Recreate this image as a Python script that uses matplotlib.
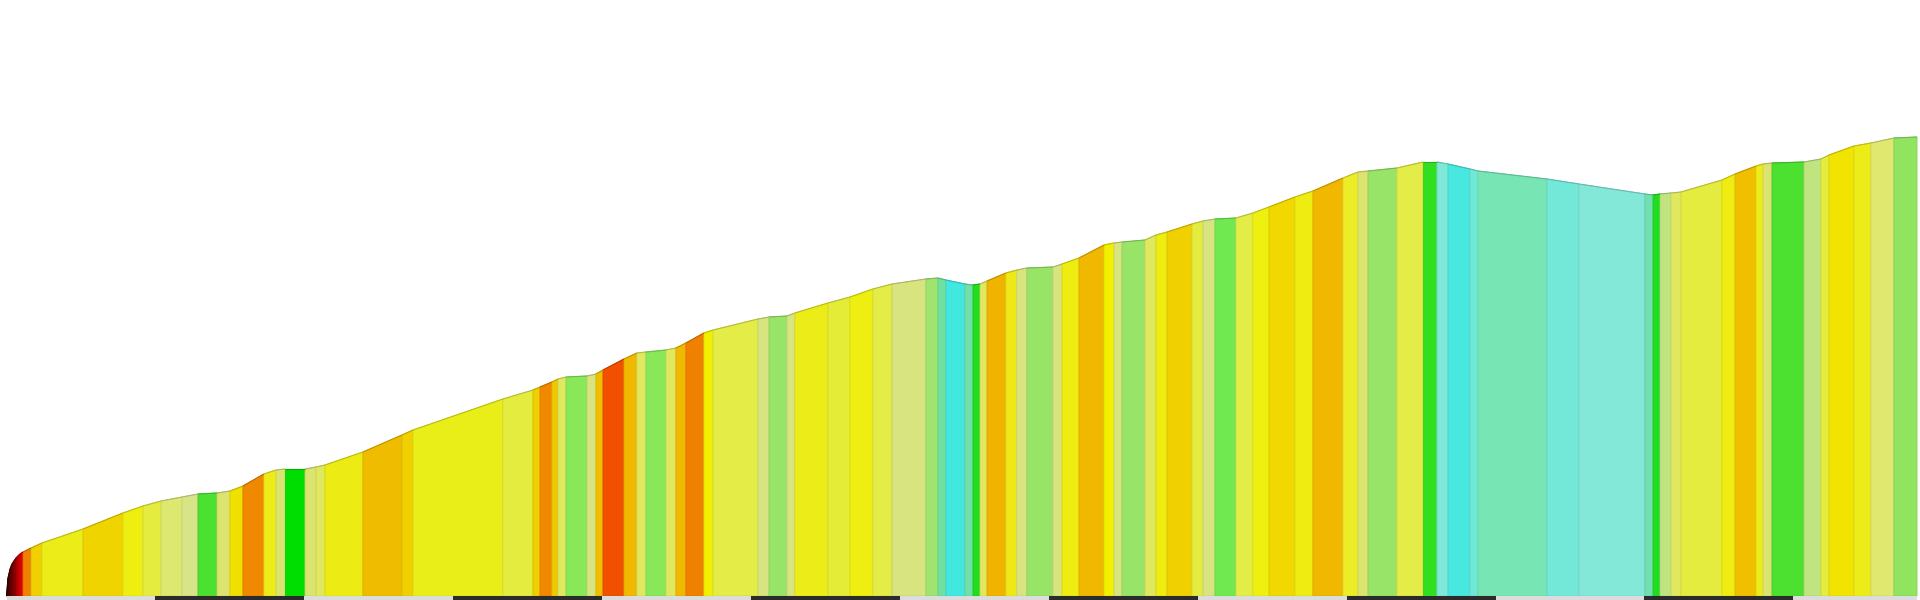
import numpy as np
import matplotlib
matplotlib.use("Agg")
import matplotlib.pyplot as plt
from matplotlib.colors import to_rgb

# distance along the route (km) at each segment boundary
dist_km = [
    0.000, 0.010, 0.024, 0.037, 0.050, 0.064, 0.077, 0.091, 0.111, 0.165,
    0.238, 0.514, 0.782, 0.917, 1.038, 1.179, 1.286, 1.414, 1.501, 1.588,
    1.729, 1.810, 1.870, 2.005, 2.079, 2.139, 2.394, 2.656, 2.730, 3.334,
    3.536, 3.583, 3.663, 3.704, 3.758, 3.899, 3.959, 4.006, 4.147, 4.234,
    4.295, 4.429, 4.496, 4.563, 4.684, 4.745, 5.047, 5.121, 5.242, 5.295,
    5.517, 5.665, 5.819, 5.947, 6.175, 6.256, 6.310, 6.437, 6.491, 6.538,
    6.585, 6.712, 6.786, 6.853, 7.028, 7.089, 7.203, 7.371, 7.438, 7.492,
    7.646, 7.720, 7.794, 7.962, 8.036, 8.116, 8.257, 8.371, 8.479, 8.653,
    8.774, 8.976, 9.077, 9.144, 9.338, 9.513, 9.607, 9.681, 9.829, 9.883,
    10.346, 10.561, 11.004, 11.058, 11.105, 11.179, 11.246, 11.521, 11.609, 11.750,
    11.797, 11.857, 12.072, 12.186, 12.240, 12.408, 12.522, 12.676, 12.831,
]

# elevation (m) at each boundary
elev_m = [
    300, 336, 354, 364, 370, 376, 380, 384, 388, 396,
    406, 434, 466, 480, 490, 498, 504, 506, 510, 520,
    544, 552, 554, 554, 558, 562, 588, 622, 632, 694,
    712, 718, 728, 734, 738, 740, 744, 752, 774, 786,
    788, 792, 796, 806, 826, 832, 854, 858, 860, 866,
    886, 898, 914, 924, 934, 936, 932, 924, 922, 924,
    930, 946, 952, 956, 958, 964, 976, 1002, 1006, 1008,
    1012, 1022, 1028, 1044, 1050, 1054, 1056, 1066, 1078, 1098,
    1110, 1136, 1148, 1150, 1156, 1168, 1168, 1164, 1154, 1150,
    1134, 1124, 1104, 1102, 1104, 1106, 1108, 1132, 1144, 1160,
    1164, 1166, 1168, 1174, 1182, 1200, 1206, 1216, 1218,
]

# gradient colour of each segment
seg_colors = [
    '#3a0000', '#4a0000', '#5e0000', '#740000', '#8c0000', '#a80000', '#c80000', '#e00000',
    '#f08000', '#f0d000', '#ecec18', '#f0d400', '#eeee10', '#e4ec40', '#dde870', '#d8e488',
    '#4ce030', '#dce470', '#f0e000', '#f08800', '#eeec18', '#dce470', '#00dd00', '#dce470',
    '#e0e860', '#ecec14', '#f0bc00', '#f0d000', '#eaee18', '#e4ec40', '#f0d000', '#f08800',
    '#f0c800', '#e0e860', '#88e858', '#d8e480', '#f0c000', '#f05000', '#f0b800', '#e0e860',
    '#88e858', '#e0e860', '#f0b800', '#f08000', '#f0f000', '#e4ec48', '#d8e480', '#98e468',
    '#d8e480', '#ecec18', '#e4ec38', '#eeee10', '#e4ec48', '#d8e480', '#a0e470', '#70e0a0',
    '#40e8e0', '#70e0a8', '#20dd20', '#e0e860', '#f0b400', '#eee818', '#d8e480', '#98e468',
    '#d8e480', '#eeec10', '#f0b800', '#f0f000', '#d8e480', '#98e468', '#e0e860', '#eeec10',
    '#f0d000', '#e4ec40', '#d8e480', '#70e850', '#e4ec48', '#eef010', '#f0d800', '#eeec10',
    '#f0b800', '#ecec28', '#dce470', '#98e468', '#e4ec48', '#30e020', '#80e8d8', '#48e8e0',
    '#70e8d8', '#78e6b4', '#74e8d8', '#84e8d8', '#70e0b0', '#20dd20', '#c0e480', '#e0e860',
    '#e4ec40', '#eeec10', '#f0c000', '#eeec18', '#dce470', '#4ce030', '#c0e480', '#e4ec40',
    '#f0e400', '#ecec18', '#e0e870', '#90e460',
]

base_elev = 300
bar_bottom = 292
top_elev = 1492


def darker(c, f=0.85):
    r, g, b = to_rgb(c)
    return (r * f, g * f, b * f)


fig = plt.figure(figsize=(19.2, 6), dpi=100)
ax = fig.add_axes([0, 0, 1, 1])

# coloured gradient segments
for i, col in enumerate(seg_colors):
    x0, x1 = dist_km[i], dist_km[i + 1]
    e0, e1 = elev_m[i], elev_m[i + 1]
    ax.fill([x0, x0, x1, x1], [base_elev, e0, e1, base_elev],
            facecolor=col, edgecolor=darker(col, 0.92), linewidth=0.6)
    ax.plot([x0, x1], [e0, e1], color=darker(col, 0.8), linewidth=0.8,
            solid_capstyle='butt')

# kilometre bar along the bottom
total = dist_km[-1]
for k in range(int(np.ceil(total))):
    ax.fill_between([k, min(k + 1, total)], bar_bottom, base_elev,
                    color='#2b2b2b' if k % 2 else '#dcdcdc', linewidth=0)

ax.set_xlim(-6.5 / 148.9, 1913.5 / 148.9)
ax.set_ylim(bar_bottom, top_elev)
ax.axis('off')

plt.savefig('out.png', dpi=100, facecolor='white')
